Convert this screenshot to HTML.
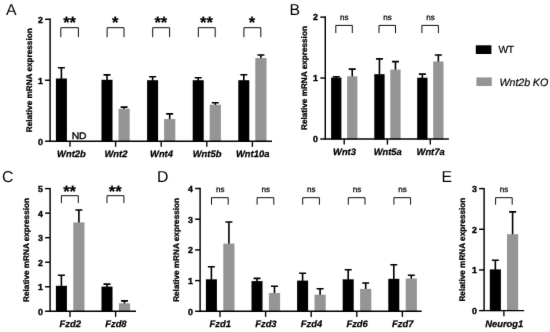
<!DOCTYPE html>
<html lang="en">
<head>
<meta charset="utf-8">
<title>Relative mRNA expression – WT vs Wnt2b KO</title>
<style>
html,body{margin:0;padding:0;background:#fff;}
body{width:550px;height:332px;overflow:hidden;}
svg{display:block;}
#fig{width:550px;height:332px;}
text{font-family:"Liberation Sans",Arial,Helvetica,sans-serif;fill:#000;text-rendering:geometricPrecision;}
.tk{font-size:8.8px;font-weight:bold;stroke:#000;stroke-width:0.4px;}
.gene{font-size:9.4px;font-weight:bold;font-style:italic;stroke:#000;stroke-width:0.25px;}
.yl{font-size:8.2px;font-weight:bold;stroke:#000;stroke-width:0.28px;}
.ns{font-size:8.1px;stroke:#000;stroke-width:0.25px;}
.nd{font-size:9.4px;letter-spacing:-0.3px;stroke:#000;stroke-width:0.35px;}
.star{font-size:16.5px;font-weight:bold;stroke:#000;stroke-width:0.2px;}
.pl{font-size:15.8px;}
.lg{font-size:10.3px;letter-spacing:-0.45px;stroke:#000;stroke-width:0.2px;}
.lgi{font-size:10.7px;font-style:italic;letter-spacing:-0.1px;stroke:#000;stroke-width:0.2px;}
</style>
</head>
<body>
<div id="fig">
<svg width="550" height="332" viewBox="0 0 550 332">
<defs><filter id="soft" filterUnits="userSpaceOnUse" x="0" y="0" width="550" height="332" color-interpolation-filters="sRGB"><feConvolveMatrix order="3" kernelMatrix="0.0049 0.0602 0.0049 0.0602 0.7396 0.0602 0.0049 0.0602 0.0049" edgeMode="duplicate" preserveAlpha="true"/></filter></defs>
<g filter="url(#soft)">
<rect width="550" height="332" fill="#fff"/>
<path d="M50.10 18.57V141.20" stroke="#000" stroke-width="1.45" fill="none"/>
<path d="M61.40 79.40V67.70M57.90 67.70H64.90" stroke="#000" stroke-width="1.6" fill="none"/>
<rect x="55.90" y="78.50" width="11.00" height="63.20" fill="#000"/>
<path d="M107.00 80.70V74.90M103.50 74.90H110.50" stroke="#000" stroke-width="1.6" fill="none"/>
<rect x="101.50" y="79.80" width="11.00" height="61.90" fill="#000"/>
<path d="M124.10 109.70V107.10M120.60 107.10H127.60" stroke="#000" stroke-width="1.6" fill="none"/>
<rect x="118.50" y="108.80" width="11.20" height="32.90" fill="#959595"/>
<path d="M152.60 81.10V76.80M149.10 76.80H156.10" stroke="#000" stroke-width="1.6" fill="none"/>
<rect x="147.10" y="80.20" width="11.00" height="61.50" fill="#000"/>
<path d="M169.70 119.90V113.90M166.20 113.90H173.20" stroke="#000" stroke-width="1.6" fill="none"/>
<rect x="164.10" y="119.00" width="11.20" height="22.70" fill="#959595"/>
<path d="M198.20 81.10V77.80M194.70 77.80H201.70" stroke="#000" stroke-width="1.6" fill="none"/>
<rect x="192.70" y="80.20" width="11.00" height="61.50" fill="#000"/>
<path d="M215.30 105.60V102.80M211.80 102.80H218.80" stroke="#000" stroke-width="1.6" fill="none"/>
<rect x="209.70" y="104.70" width="11.20" height="37.00" fill="#959595"/>
<path d="M243.80 81.10V74.70M240.30 74.70H247.30" stroke="#000" stroke-width="1.6" fill="none"/>
<rect x="238.30" y="80.20" width="11.00" height="61.50" fill="#000"/>
<path d="M260.90 58.90V55.00M257.40 55.00H264.40" stroke="#000" stroke-width="1.6" fill="none"/>
<rect x="255.30" y="58.00" width="11.20" height="83.70" fill="#959595"/>
<path d="M49.38 141.20H272.00" stroke="#000" stroke-width="1.45" fill="none"/>
<path d="M45.10 141.20H50.10" stroke="#000" stroke-width="1.45" fill="none"/>
<text x="42.80" y="145.00" class="tk" text-anchor="end">0</text>
<path d="M45.10 80.25H50.10" stroke="#000" stroke-width="1.45" fill="none"/>
<text x="42.80" y="84.00" class="tk" text-anchor="end">1</text>
<path d="M45.10 19.30H50.10" stroke="#000" stroke-width="1.45" fill="none"/>
<text x="42.80" y="23.00" class="tk" text-anchor="end">2</text>
<path d="M70.00 141.20V146.80" stroke="#000" stroke-width="1.35" fill="none"/>
<text x="71.40" y="156.90" class="gene" text-anchor="middle">Wnt2b</text>
<path d="M60.80 37.20V27.70H78.40V37.20" stroke="#000" stroke-width="0.95" fill="none"/>
<text x="69.60" y="28.00" class="star" text-anchor="middle">**</text>
<text transform="translate(78.90 138.80) scale(1.1 1)" class="nd" text-anchor="middle">ND</text>
<path d="M115.60 141.20V146.80" stroke="#000" stroke-width="1.35" fill="none"/>
<text x="115.90" y="156.90" class="gene" text-anchor="middle">Wnt2</text>
<path d="M107.10 37.20V27.70H124.00V37.20" stroke="#000" stroke-width="0.95" fill="none"/>
<text x="115.20" y="28.00" class="star" text-anchor="middle">*</text>
<path d="M161.20 141.20V146.80" stroke="#000" stroke-width="1.35" fill="none"/>
<text x="161.50" y="156.90" class="gene" text-anchor="middle">Wnt4</text>
<path d="M152.70 37.20V27.70H169.60V37.20" stroke="#000" stroke-width="0.95" fill="none"/>
<text x="160.80" y="28.00" class="star" text-anchor="middle">**</text>
<path d="M206.80 141.20V146.80" stroke="#000" stroke-width="1.35" fill="none"/>
<text x="207.10" y="156.90" class="gene" text-anchor="middle">Wnt5b</text>
<path d="M198.30 37.20V27.70H215.20V37.20" stroke="#000" stroke-width="0.95" fill="none"/>
<text x="206.40" y="28.00" class="star" text-anchor="middle">**</text>
<path d="M252.40 141.20V146.80" stroke="#000" stroke-width="1.35" fill="none"/>
<text x="252.70" y="156.90" class="gene" text-anchor="middle">Wnt10a</text>
<path d="M243.90 37.20V27.70H260.80V37.20" stroke="#000" stroke-width="0.95" fill="none"/>
<text x="252.00" y="28.00" class="star" text-anchor="middle">*</text>
<text transform="translate(32.20 80.25) rotate(-90)" class="yl" text-anchor="middle">Relative mRNA expression</text>
<path d="M325.30 16.38V139.00" stroke="#000" stroke-width="1.45" fill="none"/>
<path d="M336.25 78.50V76.80M332.75 76.80H339.75" stroke="#000" stroke-width="1.6" fill="none"/>
<rect x="331.10" y="77.60" width="10.30" height="61.90" fill="#000"/>
<path d="M352.25 77.20V69.10M348.75 69.10H355.75" stroke="#000" stroke-width="1.6" fill="none"/>
<rect x="347.10" y="76.30" width="10.30" height="63.20" fill="#959595"/>
<path d="M379.45 75.10V58.90M375.95 58.90H382.95" stroke="#000" stroke-width="1.6" fill="none"/>
<rect x="374.30" y="74.20" width="10.30" height="65.30" fill="#000"/>
<path d="M395.45 70.50V61.60M391.95 61.60H398.95" stroke="#000" stroke-width="1.6" fill="none"/>
<rect x="390.30" y="69.60" width="10.30" height="69.90" fill="#959595"/>
<path d="M422.35 78.60V74.10M418.85 74.10H425.85" stroke="#000" stroke-width="1.6" fill="none"/>
<rect x="417.20" y="77.70" width="10.30" height="61.80" fill="#000"/>
<path d="M438.35 62.40V55.00M434.85 55.00H441.85" stroke="#000" stroke-width="1.6" fill="none"/>
<rect x="433.20" y="61.50" width="10.30" height="78.00" fill="#959595"/>
<path d="M324.57 139.00H448.90" stroke="#000" stroke-width="1.45" fill="none"/>
<path d="M320.30 139.00H325.30" stroke="#000" stroke-width="1.45" fill="none"/>
<text x="318.00" y="142.00" class="tk" text-anchor="end">0</text>
<path d="M320.30 78.05H325.30" stroke="#000" stroke-width="1.45" fill="none"/>
<text x="318.00" y="81.00" class="tk" text-anchor="end">1</text>
<path d="M320.30 17.10H325.30" stroke="#000" stroke-width="1.45" fill="none"/>
<text x="318.00" y="20.00" class="tk" text-anchor="end">2</text>
<path d="M344.20 139.00V144.60" stroke="#000" stroke-width="1.35" fill="none"/>
<text x="344.50" y="154.60" class="gene" text-anchor="middle">Wnt3</text>
<path d="M335.80 33.10V25.40H352.30V33.10" stroke="#000" stroke-width="0.95" fill="none"/>
<text x="344.40" y="20.00" class="ns" text-anchor="middle">ns</text>
<path d="M387.40 139.00V144.60" stroke="#000" stroke-width="1.35" fill="none"/>
<text x="387.70" y="154.60" class="gene" text-anchor="middle">Wnt5a</text>
<path d="M379.00 33.10V25.40H395.50V33.10" stroke="#000" stroke-width="0.95" fill="none"/>
<text x="387.60" y="20.00" class="ns" text-anchor="middle">ns</text>
<path d="M430.30 139.00V144.60" stroke="#000" stroke-width="1.35" fill="none"/>
<text x="430.60" y="154.60" class="gene" text-anchor="middle">Wnt7a</text>
<path d="M421.90 33.10V25.40H438.40V33.10" stroke="#000" stroke-width="0.95" fill="none"/>
<text x="430.50" y="20.00" class="ns" text-anchor="middle">ns</text>
<text transform="translate(307.30 78.05) rotate(-90)" class="yl" text-anchor="middle">Relative mRNA expression</text>
<path d="M50.10 187.88V311.30" stroke="#000" stroke-width="1.45" fill="none"/>
<path d="M61.40 286.70V275.30M57.90 275.30H64.90" stroke="#000" stroke-width="1.6" fill="none"/>
<rect x="55.90" y="285.80" width="11.00" height="26.00" fill="#000"/>
<path d="M78.90 223.30V210.00M75.40 210.00H82.40" stroke="#000" stroke-width="1.6" fill="none"/>
<rect x="73.30" y="222.40" width="11.20" height="89.40" fill="#959595"/>
<path d="M107.00 287.50V284.10M103.50 284.10H110.50" stroke="#000" stroke-width="1.6" fill="none"/>
<rect x="101.50" y="286.60" width="11.00" height="25.20" fill="#000"/>
<path d="M124.50 304.20V300.90M121.00 300.90H128.00" stroke="#000" stroke-width="1.6" fill="none"/>
<rect x="118.90" y="303.30" width="11.20" height="8.50" fill="#959595"/>
<path d="M49.38 311.30H136.00" stroke="#000" stroke-width="1.45" fill="none"/>
<path d="M45.10 311.30H50.10" stroke="#000" stroke-width="1.45" fill="none"/>
<text x="42.80" y="315.00" class="tk" text-anchor="end">0</text>
<path d="M45.10 286.76H50.10" stroke="#000" stroke-width="1.45" fill="none"/>
<text x="42.80" y="290.00" class="tk" text-anchor="end">1</text>
<path d="M45.10 262.22H50.10" stroke="#000" stroke-width="1.45" fill="none"/>
<text x="42.80" y="266.00" class="tk" text-anchor="end">2</text>
<path d="M45.10 237.68H50.10" stroke="#000" stroke-width="1.45" fill="none"/>
<text x="42.80" y="241.00" class="tk" text-anchor="end">3</text>
<path d="M45.10 213.14H50.10" stroke="#000" stroke-width="1.45" fill="none"/>
<text x="42.80" y="217.00" class="tk" text-anchor="end">4</text>
<path d="M45.10 188.60H50.10" stroke="#000" stroke-width="1.45" fill="none"/>
<text x="42.80" y="192.00" class="tk" text-anchor="end">5</text>
<path d="M70.00 311.30V316.90" stroke="#000" stroke-width="1.35" fill="none"/>
<text x="70.30" y="327.10" class="gene" text-anchor="middle">Fzd2</text>
<path d="M61.40 203.10V195.70H78.30V203.10" stroke="#000" stroke-width="0.95" fill="none"/>
<text x="69.60" y="197.00" class="star" text-anchor="middle">**</text>
<path d="M115.60 311.30V316.90" stroke="#000" stroke-width="1.35" fill="none"/>
<text x="115.90" y="327.10" class="gene" text-anchor="middle">Fzd8</text>
<path d="M107.00 203.10V195.70H123.90V203.10" stroke="#000" stroke-width="0.95" fill="none"/>
<text x="115.20" y="197.00" class="star" text-anchor="middle">**</text>
<text transform="translate(29.00 249.95) rotate(-90)" class="yl" text-anchor="middle">Relative mRNA expression</text>
<path d="M200.10 187.78V311.30" stroke="#000" stroke-width="1.45" fill="none"/>
<path d="M211.40 280.20V266.70M207.90 266.70H214.90" stroke="#000" stroke-width="1.6" fill="none"/>
<rect x="205.90" y="279.30" width="11.00" height="32.50" fill="#000"/>
<path d="M228.90 244.50V222.00M225.40 222.00H232.40" stroke="#000" stroke-width="1.6" fill="none"/>
<rect x="223.30" y="243.60" width="11.20" height="68.20" fill="#959595"/>
<path d="M257.00 282.00V278.40M253.50 278.40H260.50" stroke="#000" stroke-width="1.6" fill="none"/>
<rect x="251.50" y="281.10" width="11.00" height="30.70" fill="#000"/>
<path d="M274.50 293.90V286.20M271.00 286.20H278.00" stroke="#000" stroke-width="1.6" fill="none"/>
<rect x="268.90" y="293.00" width="11.20" height="18.80" fill="#959595"/>
<path d="M302.60 281.50V273.20M299.10 273.20H306.10" stroke="#000" stroke-width="1.6" fill="none"/>
<rect x="297.10" y="280.60" width="11.00" height="31.20" fill="#000"/>
<path d="M320.10 295.60V288.80M316.60 288.80H323.60" stroke="#000" stroke-width="1.6" fill="none"/>
<rect x="314.50" y="294.70" width="11.20" height="17.10" fill="#959595"/>
<path d="M348.20 280.20V269.80M344.70 269.80H351.70" stroke="#000" stroke-width="1.6" fill="none"/>
<rect x="342.70" y="279.30" width="11.00" height="32.50" fill="#000"/>
<path d="M365.70 289.80V283.00M362.20 283.00H369.20" stroke="#000" stroke-width="1.6" fill="none"/>
<rect x="360.10" y="288.90" width="11.20" height="22.90" fill="#959595"/>
<path d="M393.80 279.70V264.70M390.30 264.70H397.30" stroke="#000" stroke-width="1.6" fill="none"/>
<rect x="388.30" y="278.80" width="11.00" height="33.00" fill="#000"/>
<path d="M411.30 279.40V275.30M407.80 275.30H414.80" stroke="#000" stroke-width="1.6" fill="none"/>
<rect x="405.70" y="278.50" width="11.20" height="33.30" fill="#959595"/>
<path d="M199.38 311.30H421.70" stroke="#000" stroke-width="1.45" fill="none"/>
<path d="M195.10 311.30H200.10" stroke="#000" stroke-width="1.45" fill="none"/>
<text x="192.80" y="315.00" class="tk" text-anchor="end">0</text>
<path d="M195.10 280.60H200.10" stroke="#000" stroke-width="1.45" fill="none"/>
<text x="192.80" y="284.00" class="tk" text-anchor="end">1</text>
<path d="M195.10 249.90H200.10" stroke="#000" stroke-width="1.45" fill="none"/>
<text x="192.80" y="253.00" class="tk" text-anchor="end">2</text>
<path d="M195.10 219.20H200.10" stroke="#000" stroke-width="1.45" fill="none"/>
<text x="192.80" y="223.00" class="tk" text-anchor="end">3</text>
<path d="M195.10 188.50H200.10" stroke="#000" stroke-width="1.45" fill="none"/>
<text x="192.80" y="192.00" class="tk" text-anchor="end">4</text>
<path d="M220.00 311.30V316.90" stroke="#000" stroke-width="1.35" fill="none"/>
<text x="220.30" y="327.10" class="gene" text-anchor="middle">Fzd1</text>
<path d="M211.50 204.70V197.70H228.20V204.70" stroke="#000" stroke-width="0.95" fill="none"/>
<text x="220.20" y="191.90" class="ns" text-anchor="middle">ns</text>
<path d="M265.60 311.30V316.90" stroke="#000" stroke-width="1.35" fill="none"/>
<text x="265.90" y="327.10" class="gene" text-anchor="middle">Fzd3</text>
<path d="M257.10 204.70V197.70H273.80V204.70" stroke="#000" stroke-width="0.95" fill="none"/>
<text x="265.80" y="191.90" class="ns" text-anchor="middle">ns</text>
<path d="M311.20 311.30V316.90" stroke="#000" stroke-width="1.35" fill="none"/>
<text x="311.50" y="327.10" class="gene" text-anchor="middle">Fzd4</text>
<path d="M302.70 204.70V197.70H319.40V204.70" stroke="#000" stroke-width="0.95" fill="none"/>
<text x="311.40" y="191.90" class="ns" text-anchor="middle">ns</text>
<path d="M356.80 311.30V316.90" stroke="#000" stroke-width="1.35" fill="none"/>
<text x="357.10" y="327.10" class="gene" text-anchor="middle">Fzd6</text>
<path d="M348.30 204.70V197.70H365.00V204.70" stroke="#000" stroke-width="0.95" fill="none"/>
<text x="357.00" y="191.90" class="ns" text-anchor="middle">ns</text>
<path d="M402.40 311.30V316.90" stroke="#000" stroke-width="1.35" fill="none"/>
<text x="402.70" y="327.10" class="gene" text-anchor="middle">Fzd7</text>
<path d="M393.90 204.70V197.70H410.60V204.70" stroke="#000" stroke-width="0.95" fill="none"/>
<text x="402.60" y="191.90" class="ns" text-anchor="middle">ns</text>
<text transform="translate(179.00 249.90) rotate(-90)" class="yl" text-anchor="middle">Relative mRNA expression</text>
<path d="M484.10 187.88V310.60" stroke="#000" stroke-width="1.45" fill="none"/>
<path d="M495.35 270.30V260.30M491.85 260.30H498.85" stroke="#000" stroke-width="1.6" fill="none"/>
<rect x="489.80" y="269.40" width="11.10" height="41.70" fill="#000"/>
<path d="M512.60 235.10V211.90M509.10 211.90H516.10" stroke="#000" stroke-width="1.6" fill="none"/>
<rect x="507.00" y="234.20" width="11.20" height="76.90" fill="#959595"/>
<path d="M483.38 310.60H524.20" stroke="#000" stroke-width="1.45" fill="none"/>
<path d="M479.10 310.60H484.10" stroke="#000" stroke-width="1.45" fill="none"/>
<text x="476.80" y="314.00" class="tk" text-anchor="end">0</text>
<path d="M479.10 269.93H484.10" stroke="#000" stroke-width="1.45" fill="none"/>
<text x="476.80" y="273.00" class="tk" text-anchor="end">1</text>
<path d="M479.10 229.27H484.10" stroke="#000" stroke-width="1.45" fill="none"/>
<text x="476.80" y="233.00" class="tk" text-anchor="end">2</text>
<path d="M479.10 188.60H484.10" stroke="#000" stroke-width="1.45" fill="none"/>
<text x="476.80" y="192.00" class="tk" text-anchor="end">3</text>
<path d="M503.90 310.60V316.20" stroke="#000" stroke-width="1.35" fill="none"/>
<text x="504.20" y="327.00" class="gene" text-anchor="middle">Neurog1</text>
<path d="M495.60 204.70V197.70H512.20V204.70" stroke="#000" stroke-width="0.95" fill="none"/>
<text x="504.10" y="191.90" class="ns" text-anchor="middle">ns</text>
<text transform="translate(464.80 249.60) rotate(-90)" class="yl" text-anchor="middle">Relative mRNA expression</text>
<text x="6.00" y="15.00" class="pl" text-anchor="start">A</text>
<text x="289.50" y="15.00" class="pl" text-anchor="start">B</text>
<text x="2.00" y="182.00" class="pl" text-anchor="start">C</text>
<text x="157.10" y="182.00" class="pl" text-anchor="start">D</text>
<text x="441.60" y="182.00" class="pl" text-anchor="start">E</text>
<rect x="475.8" y="45.3" width="15.6" height="8.7" fill="#000"/>
<rect x="476.4" y="77.4" width="15.4" height="8.6" fill="#959595"/>
<text x="498.60" y="52.70" class="lg" text-anchor="start">WT</text>
<text x="499.60" y="86.00" class="lgi" text-anchor="start">Wnt2b KO</text>
</g>
</svg>
</div>
</body>
</html>
